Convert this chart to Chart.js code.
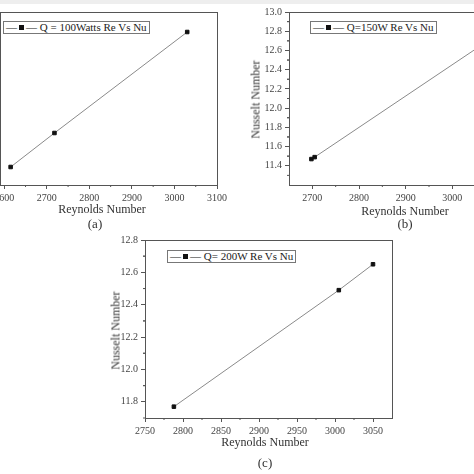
<!DOCTYPE html>
<html><head><meta charset="utf-8">
<script src="https://cdn.jsdelivr.net/npm/chart.js@4"></script>
<style>
body{margin:0;width:474px;height:474px;overflow:hidden;background:#fff;position:relative;font-family:"Liberation Serif",serif;}
.c{position:absolute;}
.t{position:absolute;font-size:12px;color:#333;white-space:nowrap;transform:translateX(-50%);}
.lg{position:absolute;border:1px solid #777;background:#fff;font-size:11px;height:11px;line-height:11px;padding:0 2px;color:#222;white-space:nowrap;}
.lg i{display:inline-block;width:5px;height:5px;background:#111;margin:0 2px;vertical-align:1px;}
</style></head><body>
<div style="position:absolute;left:0;top:0;width:474px;height:4px;background:#eee"></div>
<div class="c" style="left:-40px;top:0;width:270px;height:237px"><canvas id="a"></canvas></div>
<div class="c" style="left:237px;top:0;width:275px;height:237px"><canvas id="b"></canvas></div>
<div class="c" style="left:100px;top:228px;width:297px;height:246px"><canvas id="c"></canvas></div>
<div class="t" style="left:102px;top:202px">Reynolds Number</div>
<div class="t" style="left:95px;top:216px;font-size:13px">(a)</div>
<div class="t" style="left:405px;top:204px">Reynolds Number</div>
<div class="t" style="left:405px;top:216px;font-size:13px">(b)</div>
<div class="t" style="left:265px;top:435px">Reynolds Number</div>
<div class="t" style="left:265px;top:455px;font-size:13px">(c)</div>
<div class="t" style="left:256px;top:92px;transform:translate(-50%,0) rotate(-90deg)">Nusselt Number</div>
<div class="t" style="left:116px;top:323px;transform:translate(-50%,0) rotate(-90deg)">Nusselt Number</div>
<div class="lg" style="left:3px;top:21px">—<i></i>— Q = 100Watts Re Vs Nu</div>
<div class="lg" style="left:310px;top:21px">—<i></i>— Q=150W Re Vs Nu</div>
<div class="lg" style="left:167px;top:250px">—<i></i>— Q= 200W Re Vs Nu</div>
<script>
const reA=[2615,2718,3030], nuA=[11.18,11.52,12.53];
const reB=[2698,2705,3070], nuB=[11.47,11.49,12.68];
const reC=[2788,3005,3050], nuC=[11.77,12.49,12.65];
const yTicksB=[11.4,11.6,11.8,12.0,12.2,12.4,12.6,12.8,13.0];
const yTicksC=[11.8,12.0,12.2,12.4,12.6,12.8];

const frame={id:'frame',afterDraw(ch){const a=ch.chartArea,x=ch.ctx;x.save();x.strokeStyle='#555';x.lineWidth=1;x.strokeRect(a.left+.5,a.top+.5,a.right-a.left,a.bottom-a.top);
 const sx=ch.scales.x,sy=ch.scales.y;
 for(let i=0;i<sx.ticks.length;i++){const v=sx.ticks[i].value,st=sx.ticks.length>1?sx.ticks[1].value-sx.ticks[0].value:50;const p=sx.getPixelForValue(v+st/2);if(p>a.left&&p<a.right){x.beginPath();x.moveTo(p,a.bottom);x.lineTo(p,a.bottom+2);x.stroke();}}
 for(let i=0;i<sy.ticks.length;i++){const v=sy.ticks[i].value,st=0.2;for(const q of[v-st/2,v+st/2]){const p=sy.getPixelForValue(q);if(p>a.top&&p<a.bottom){x.beginPath();x.moveTo(a.left,p);x.lineTo(a.left-2,p);x.stroke();}}}
 x.restore();}};

function mk(id,re,nu,o){
 new Chart(document.getElementById(id),{type:'line',
  data:{datasets:[{data:re.map((r,i)=>({x:r,y:nu[i]})),borderColor:'#8a8a8a',borderWidth:1,pointStyle:'rect',pointRadius:2.5,pointBackgroundColor:'#111',pointBorderColor:'#111',clip:0}]},
  options:{animation:false,responsive:true,maintainAspectRatio:false,devicePixelRatio:1,
   layout:{padding:o.pad},
   plugins:{legend:{display:false},tooltip:{enabled:false}},
   scales:{
    x:{type:'linear',min:o.xmin,max:o.xmax,border:{display:false},grid:{drawOnChartArea:false,tickLength:4,color:'#555'},
     afterBuildTicks:s=>{s.ticks=o.xt.map(v=>({value:v}));},afterFit:s=>{s.height=o.xh;},
     ticks:{color:'#444',font:{family:'Liberation Serif',size:10},padding:3,callback:v=>v}},
    y:{min:o.ymin,max:o.ymax,display:true,border:{display:false},grid:{drawOnChartArea:false,tickLength:4,color:'#555'},
     afterBuildTicks:s=>{s.ticks=o.yt.map(v=>({value:v}));},afterFit:s=>{s.width=o.yw;},
     ticks:{display:o.yl,color:'#444',font:{family:'Liberation Serif',size:10},padding:3,callback:v=>v.toFixed(1)}}}},
  plugins:[frame]});
}
mk('a',reA,nuA,{pad:{top:12,right:2,left:0,bottom:0},xmin:2590,xmax:3100,xt:[2600,2700,2800,2900,3000,3100],xh:52,ymin:11.0,ymax:12.73,yt:[11.2,11.4,11.6,11.8,12.0,12.2,12.4,12.6],yw:40,yl:false});
mk('b',reB,nuB,{pad:{top:12,right:0,left:0,bottom:0},xmin:2650,xmax:3100,xt:[2700,2800,2900,3000,3100],xh:52,ymin:11.2,ymax:13.0,yt:yTicksB,yw:52,yl:true});
mk('c',reC,nuC,{pad:{top:12,right:2,left:0,bottom:0},xmin:2750,xmax:3075,xt:[2750,2800,2850,2900,2950,3000,3050],xh:56,ymin:11.7,ymax:12.8,yt:yTicksC,yw:45,yl:true});
</script></body></html>
